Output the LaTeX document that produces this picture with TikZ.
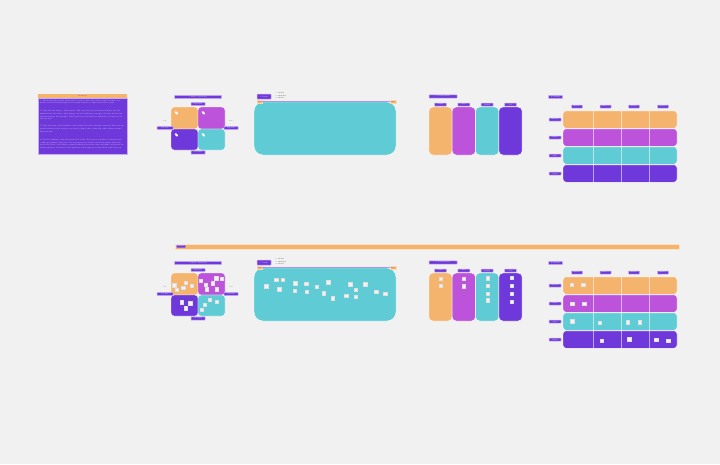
\documentclass[tikz,border=0pt]{standalone}
\usetikzlibrary{positioning}
\definecolor{paper}{HTML}{F1F1F1}
\definecolor{peach}{HTML}{F4B46E}
\definecolor{orchid}{HTML}{BC53DA}
\definecolor{aqua}{HTML}{5FCBD4}
\definecolor{violet}{HTML}{6E38DA}
\tikzset{
    small/.style={font=\sffamily\fontsize{1.6}{1.9}\selectfont},
    tag/.style={small, fill=violet, draw=violet!35, line width=.5pt, text=white!85!violet,
        inner sep=.3pt, minimum height=3.4pt, rounded corners=.3pt},
    endtag/.style={small, fill=peach, draw=peach!50, line width=.4pt, text=violet,
        inner sep=.3pt, minimum height=3pt, minimum width=5pt},
    block/.style={draw=white, line width=.4pt, inner sep=0, rounded corners=#1},
    block/.default=3pt,
    sticky/.style={fill=gray!10, draw=gray!25, line width=.2pt, minimum size=3.4pt, inner sep=0},
    pinned/.style={sticky, preaction={fill=violet!75, transform canvas={shift={(.6pt,-.6pt)}}}},
    pill/.style={fill=white, rounded corners=.8pt, minimum width=4pt, minimum height=1.8pt, inner sep=0, rotate=-45}
}
% one board: #1 = prefix of the node names
\newcommand{\board}[1]{
    % 1. matrix
    \node[tag, minimum width=47pt] (#1mt) at (198, 97) {1. Impact / effort matrix};
    \node[block, fill=peach, minimum width=27pt, minimum height=22pt] (#1q1) at (184.5, 118) {};
    \node[block, fill=orchid, minimum width=27pt, minimum height=22pt] (#1q2) at (211.5, 118) {};
    \node[block, fill=violet, minimum width=27pt, minimum height=21pt] (#1q3) at (184.5, 139.5) {};
    \node[block, fill=aqua, minimum width=27pt, minimum height=21pt] (#1q4) at (211.5, 139.5) {};
    \node[tag, minimum width=14pt] (#1mn) at (198, 104) {High impact};
    \node[tag, minimum width=14pt] (#1ms) at (198, 152.5) {Low impact};
    \node[tag, minimum width=16pt] (#1mw) at (165, 128) {Low effort};
    \node[tag, minimum width=14pt] (#1me) at (231, 128) {High effort};
    \node[small, text=gray, above=.6pt of #1mw] (#1mwx) {easy};
    \node[small, text=gray, above=.6pt of #1me] (#1mex) {hard};
    % 2. timeline
    \node[tag, minimum width=14pt, minimum height=5pt] (#1tt) at (264, 96.5) {2. Timeline};
    \node[small, text=gray!70!black, anchor=west] (#1l1) at (272, 93.5) {1 -- 30 Days};
    \node[small, text=gray!70!black, anchor=west] (#1l2) at (272, 96) {2 -- 60-90 Days};
    \node[small, text=gray!70!black, anchor=west] (#1l3) at (272, 98.5) {3 -- 90 Days};
    \node[block=9pt, fill=aqua, minimum width=142pt, minimum height=53pt] (#1tl) at (325, 128.5) {};
    \node[endtag] (#1ts) at (259.5, 101.5) {Now};
    \node[endtag, minimum width=6pt] (#1te) at (393, 101.5) {Later};
    \draw[violet!55, line width=.7pt] (#1ts) -- (#1te);
    % 3. buckets
    \node[tag, minimum width=28pt] (#1ct) at (443, 96.5) {3. Priority buckets};
    \foreach \c/\x/\col/\lab in {1/440.5/peach/Urgent, 2/463.8/orchid/High, 3/487.2/aqua/Medium, 4/510.5/violet/Low}{
        \node[block=4pt, fill=\col, minimum width=23.3pt, minimum height=48pt] (#1c\c) at (\x, 131) {};
        \node[tag, minimum width=12pt, minimum height=3pt] (#1cl\c) at (\x, 104.5) {\lab};
    }
    % 4. roadmap
    \node[tag, minimum width=14pt] (#1rt) at (555.5, 97) {4. Roadmap};
    \foreach \k/\x/\lab in {1/577/Quarter 1, 2/605.5/Quarter 2, 3/634/Quarter 3, 4/663/Quarter 4}
        \node[tag, minimum width=11pt, minimum height=3pt] (#1rc\k) at (\x, 106.5) {\lab};
    \foreach \r/\y/\col/\lab in {1/119.5/peach/Discovery, 2/137.5/orchid/Design, 3/155.5/aqua/Build, 4/173.5/violet/Launch}{
        \node[block=3pt, fill=\col, minimum width=114pt, minimum height=17.4pt] (#1r\r) at (620, \y) {};
        \node[tag, minimum width=12pt, minimum height=3pt] (#1rl\r) at (555, \y) {\lab};
    }
    \foreach \x in {593, 621, 649}
        \draw[white, opacity=.55, line width=.6pt] (\x, 110.8) -- (\x, 182.2);
}

\begin{document}
\begin{tikzpicture}[x=1pt, y=-1pt]
    \useasboundingbox (0, 0) rectangle (720, 464);
    \fill[paper] (0, 0) rectangle (720, 464);

    % instructions
    \node[small, fill=peach, text=violet, minimum width=89pt, minimum height=4pt, inner sep=0] (head) at (82.5, 96) {Instructions};
    \node[fill=violet, draw=violet!40, line width=.4pt, minimum width=89pt, minimum height=56pt, inner sep=0, below=0pt of head] (body) {};
    \node[font=\sffamily\fontsize{2}{2.7}\selectfont, text=white!65!violet, text width=85pt, align=left, inner sep=0, anchor=north] (info) at ([yshift=-1.2pt]body.north) {%
        1. This board helps a team decide what to work on first. Each idea or task is written on a sticky note and moved through the four steps from left to right until a plan is ready.\par\vspace{5.3pt}
        2. Start with the impact / effort matrix. Add one sticky note per idea and drag it into the quadrant that fits it best: quick wins go top left, big bets go top right, fill-ins go bottom left and time sinks go bottom right. Talk about every note with the team before you move on to the next step.\par\vspace{4.3pt}
        3. Place the notes on the timeline to show when each idea could start, then sort them into the priority buckets so that everyone can see at a glance what comes first, what comes next and what can wait.\par\vspace{5.6pt}
        4. Use the roadmap to turn the buckets into a plan. Each row is a stream of work and each column is a quarter of the year. Put every sticky note in the row and the quarter where the work will be done, check that no quarter holds more than the team can handle, and review the board together at the start of each quarter so that it stays up to date as the work moves on.};

    \board{t}
    \foreach \q in {q1, q2, q3, q4}
        \node[pill] (ic\q) at ([xshift=5.5pt, yshift=-6pt]t\q.north west) {};

    % divider
    \node[fill=peach, draw=peach!40, line width=.3pt, minimum width=504pt, minimum height=5pt, inner sep=0] (bar) at (427, 246.5) {};
    \node[tag, minimum width=9pt, minimum height=2.6pt, line width=.2pt] (ex) at (181, 246.5) {Example};

    \begin{scope}[shift={(0, 166)}]
        \board{b}
    \end{scope}

    % sticky notes of the example
    \foreach \x/\y [count=\i] in {174/285, 176.7/289.7, 183/287.3, 185.7/282.7, 191.7/285.7, 200.7/280.7, 205.7/284.7, 206.7/289, 212.3/283, 216/278, 221.3/278.3, 216.3/289, 181.7/302, 190/303, 185.3/308, 209.3/299.7, 204.7/304.7, 216.7/301.3, 201.3/309.7}
        \node[sticky] (m\i) at (\x, \y) {};
    \foreach \x/\y [count=\i] in {266/286, 276/279.3, 282.3/279.3, 279/289, 295/283, 294.7/290.3, 306/283.7, 306.7/291.3, 316.7/286.3, 328/282, 323.7/293, 332.3/298, 346/295.7, 350/284, 355.3/289.3, 355.3/296.3, 365/284, 376/291.7, 385/293.7}
        \node[pinned] (t\i) at (\x, \y) {};
    \foreach \x/\y [count=\i] in {440.3/278.7, 440.3/285.3, 463.7/278.3, 463.7/286, 487.3/278, 487.3/285.3, 487.3/293.3, 487.3/300, 511.3/277.7, 511.3/285.3, 511.3/293.3, 511.3/301.3}
        \node[sticky] (c\i) at (\x, \y) {};
    \foreach \x/\y [count=\i] in {571.7/284.3, 583/284.3, 572/303.3, 584/303.3, 572/321, 599.3/322.3, 627.7/322, 639.3/322, 601.7/340.3, 629/339, 656/339.7, 668/340.3}
        \node[sticky] (r\i) at (\x, \y) {};
\end{tikzpicture}
\end{document}
